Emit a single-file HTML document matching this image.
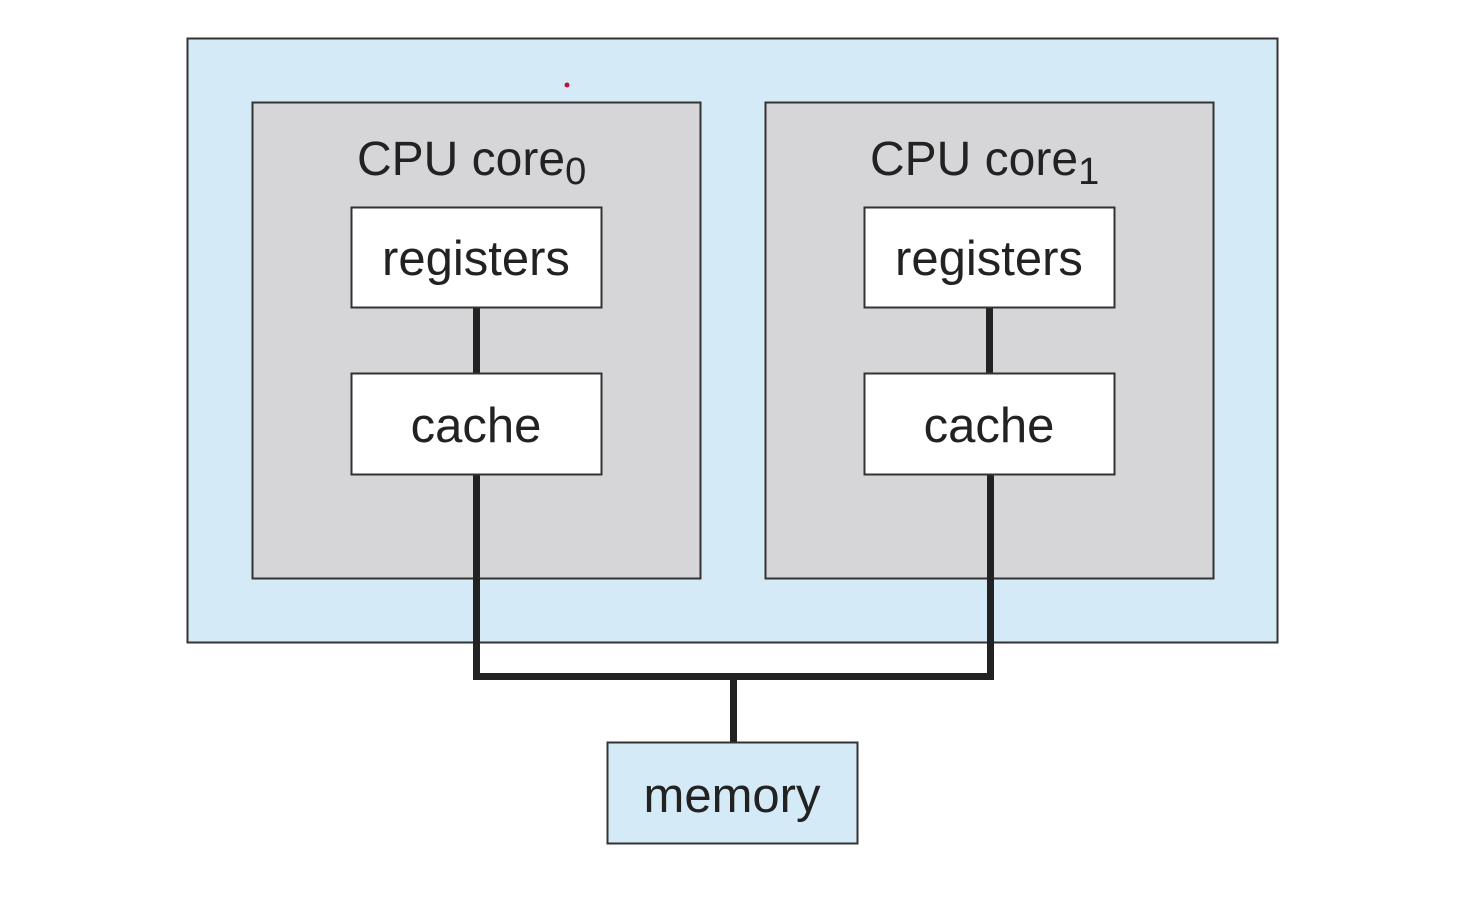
<!DOCTYPE html>
<html><head><style>html,body{margin:0;padding:0;background:#fff;}svg{display:block}</style></head>
<body>
<svg width="1484" height="912" viewBox="0 0 1484 912" xmlns="http://www.w3.org/2000/svg" font-family="Liberation Sans, sans-serif" fill="#222">
<rect x="0" y="0" width="1484" height="912" fill="#fff"/>
<rect x="187.5" y="38.5" width="1090" height="604" fill="#d4eaf7" stroke="#333" stroke-width="2"/>
<rect x="252.5" y="102.5" width="448" height="476" fill="#d6d6d8" stroke="#333" stroke-width="2"/>
<rect x="765.5" y="102.5" width="448" height="476" fill="#d6d6d8" stroke="#333" stroke-width="2"/>
<circle cx="567" cy="85" r="2.5" fill="#c0143c"/>
<g fill="none" stroke="#222" stroke-width="7">
<line x1="476.5" y1="307" x2="476.5" y2="373"/>
<line x1="989.5" y1="307" x2="989.5" y2="373"/>
<polyline points="476.5,474 476.5,676.5 990.5,676.5 990.5,474"/>
<line x1="733.5" y1="676" x2="733.5" y2="742"/>
</g>
<rect x="351.5" y="207.5" width="250" height="100" fill="#fff" stroke="#333" stroke-width="2"/>
<rect x="351.5" y="373.5" width="250" height="101" fill="#fff" stroke="#333" stroke-width="2"/>
<rect x="864.5" y="207.5" width="250" height="100" fill="#fff" stroke="#333" stroke-width="2"/>
<rect x="864.5" y="373.5" width="250" height="101" fill="#fff" stroke="#333" stroke-width="2"/>
<rect x="607.5" y="742.5" width="250" height="101" fill="#d4eaf7" stroke="#333" stroke-width="2"/>
<g font-size="49" text-anchor="middle">
<text x="476" y="275">registers</text>
<text x="476" y="442">cache</text>
<text x="989" y="275">registers</text>
<text x="989" y="442">cache</text>
<text x="732" y="812">memory</text>
</g>
<g font-size="48">
<text x="357" y="175">CPU core<tspan font-size="38" dy="9">0</tspan></text>
<text x="870" y="175">CPU core<tspan font-size="38" dy="9">1</tspan></text>
</g>
</svg>
</body></html>
